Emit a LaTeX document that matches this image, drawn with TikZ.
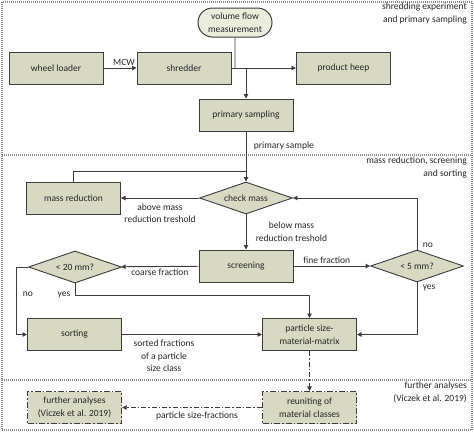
\documentclass[tikz,border=0pt]{standalone}
\usepackage{fontspec}
\setmainfont{Carlito}
\usetikzlibrary{positioning, shapes.geometric, shapes.misc, arrows.meta, calc}
\definecolor{boxfill}  {HTML}{D8D9C3}
\definecolor{ovalfill} {HTML}{EAEDDC}
\definecolor{lineg}    {HTML}{3C3C3C}
\definecolor{framegray}{HTML}{8C8C8C}

\begin{document}
\begin{tikzpicture}[
    x=1pt, y=-1pt,
    every node/.style={font=\fontsize{9.5}{12.5}\selectfont, text=black!85, align=center},
    box/.style={
        draw=lineg, fill=boxfill, line width=1pt,
        minimum width=94pt, minimum height=32pt,
        align=center, inner sep=1pt
    },
    dbox/.style={
        box, line width=1.2pt,
        dash pattern=on 6pt off 2pt on 1.5pt off 2pt
    },
    oval/.style={
        rounded rectangle, draw=lineg, fill=ovalfill, line width=1pt,
        minimum width=76pt, minimum height=29pt,
        align=center, inner sep=1pt
    },
    decision/.style={
        diamond, aspect=3, draw=lineg, fill=boxfill, line width=0.9pt,
        minimum width=93pt, minimum height=32pt, inner sep=0pt
    },
    line/.style={draw=lineg, line width=0.9pt},
    arrow/.style={line, -{Triangle[length=4.5pt, width=4.5pt]}},
    dasharrow/.style={arrow, dash pattern=on 5pt off 2pt on 1.5pt off 2pt},
    frame/.style={draw=framegray, line width=1.3pt, dash pattern=on 1pt off 1pt},
    seclabel/.style={align=right, anchor=north east, inner sep=0pt}
]

\useasboundingbox (0,0) rectangle (474,432);

% ── FRAME AND SECTIONS ─────────────────────────────────────────
\draw[frame] (2,2) rectangle (472,430);
\draw[frame] (2,155) -- (472,155);
\draw[frame] (2,380) -- (472,380);

\node[seclabel] at (467,3)   {shredding experiment\\and primary sampling};
\node[seclabel] at (467,157) {mass reduction, screening\\and sorting};
\node[seclabel] at (467,382) {further analyses\\(Viczek et al. 2019)};

% ── SHREDDING EXPERIMENT ───────────────────────────────────────
\node[oval] (volume)   at (235,22.5) {volume flow\\measurement};
\node[box]  (loader)   at (56,68)    {wheel loader};
\node[box]  (shredder) at (184,68)   {shredder};
\node[box]  (heep)     at (343.5,68) {product heep};
\node[box]  (primary)  at (246,115)  {primary sampling};

\draw[arrow] (loader) -- node[above, xshift=4pt, inner sep=2pt]{MCW} (shredder);
\draw[arrow] (shredder) -- (heep);
\draw[line] (volume) -- (volume.south |- shredder.east);
\draw[arrow] (primary.north |- shredder.east) -- (primary);

% ── MASS REDUCTION, SCREENING, SORTING ─────────────────────────
\node[decision] (check)   at (246,198)  {check mass};
\node[box]      (massred) at (73.5,198) {mass reduction};
\node[box]      (screen)  at (246,266)  {screening};
\node[decision] (lt20)    at (75,267)   {< 20 mm?};
\node[decision] (lt5)     at (417,266)  {< 5 mm?};
\node[box]      (sorting) at (74.5,334.5) {sorting};
\node[box]      (matrix)  at (309.5,334.5) {particle size-\\material-matrix};

\draw[arrow] (primary) --
    node[right, pos=0.28, xshift=4pt]{primary sample} (check);

\coordinate (mrjoin) at (246,171);
\draw[line] (massred.north) |- (mrjoin);

\draw[arrow] (check) --
    node[below, pos=0.5, yshift=-2pt]{above mass\\reduction treshold} (massred);
\draw[arrow] (check) --
    node[right, xshift=6pt]{below mass\\reduction treshold} (screen);

\draw[arrow] (screen) --
    node[below, inner sep=1pt, yshift=-1pt]{coarse fraction} (lt20);
\draw[arrow] (screen) --
    node[above, inner sep=2pt, xshift=-5pt]{fine fraction} (lt5);

\draw[arrow] (lt5.north) |-
    node[pos=0.04, right, xshift=2pt]{no} (check.east);
\draw[arrow] (lt5.south) |-
    node[pos=0.05, right, xshift=2pt]{yes} (matrix.east);

\coordinate (nocorner) at (16,267);
\draw[arrow] (lt20.west) -- (nocorner) |-
    node[pos=0.2, right, xshift=3pt]{no} (sorting.west);
\draw[arrow] (lt20.south) -- node[pos=0.95, left, xshift=-1pt]{yes} ++(0,12) -|
    (matrix.north);

\draw[arrow] (sorting) --
    node[below, pos=0.3, yshift=-2pt]{sorted fractions\\of a particle\\size class} (matrix);

% ── FURTHER ANALYSES ───────────────────────────────────────────
\node[dbox] (reunite) at (309.5,407.5) {reuniting of\\material classes};
\node[dbox] (further) at (74.5,407.5)  {further analyses\\(Viczek et al. 2019)};

\draw[dasharrow] (matrix) -- (reunite);
\draw[dasharrow] (reunite) --
    node[below, xshift=5pt, yshift=-1pt]{particle size-fractions} (further);

\end{tikzpicture}
\end{document}
